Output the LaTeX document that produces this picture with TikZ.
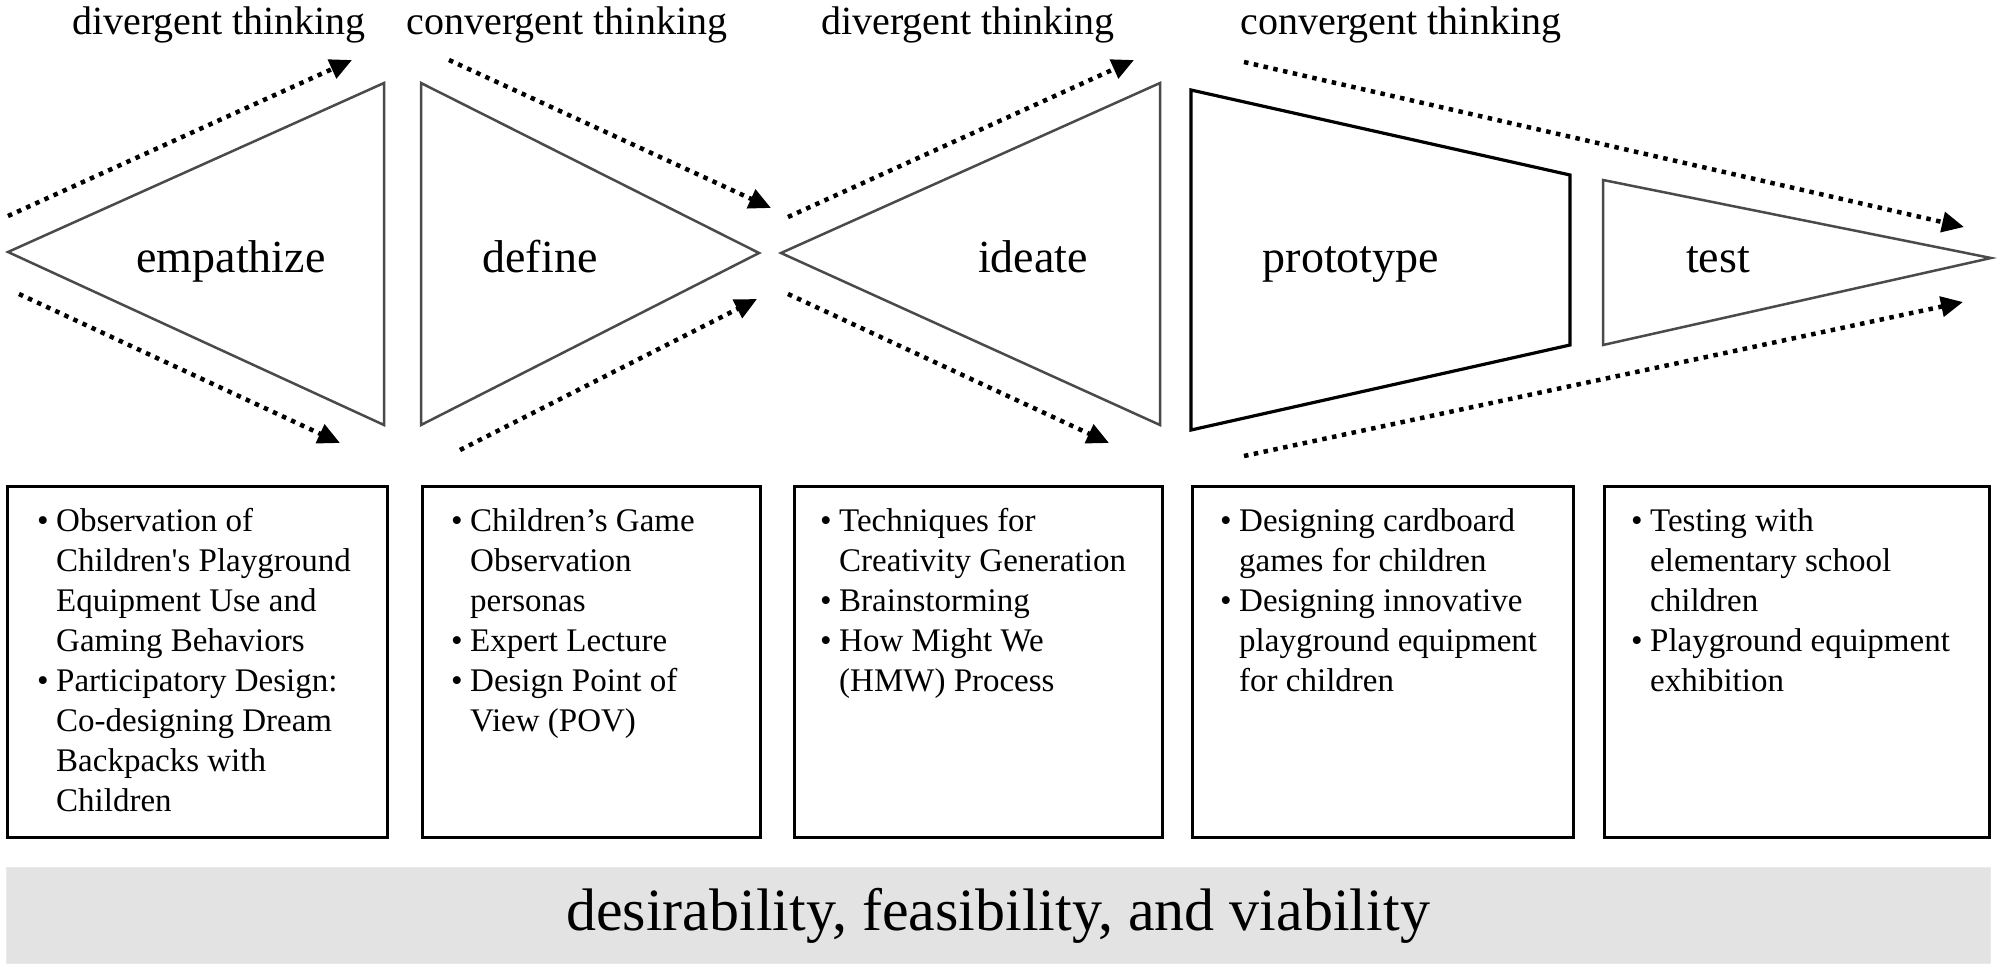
\documentclass[tikz,border=0pt]{standalone}
\usepackage{fontspec}
\setmainfont{Liberation Serif}
\usetikzlibrary{arrows.meta}
\definecolor{bandgray}{HTML}{E3E3E3}
\definecolor{edgegray}{HTML}{4A4A4A}
\newcommand{\bul}{\makebox[19pt][l]{\textbullet}}
\newcommand{\ind}{\hspace*{19pt}}
\begin{document}
\begin{tikzpicture}[x=1pt,y=-1pt,
  stage/.style={draw=edgegray,line width=2.5pt,line join=miter},
  stagedark/.style={draw=black,line width=3.2pt,line join=miter},
  flow/.style={line width=4.5pt,dash pattern=on 4.5pt off 5.5pt,-{Triangle[length=22pt,width=20pt]}},
  toplabel/.style={anchor=base,inner sep=0pt,font=\fontsize{40}{48}\selectfont},
  stagelabel/.style={anchor=base,inner sep=0pt,font=\fontsize{46}{55}\selectfont},
  box/.style={draw=black,line width=3.2pt,anchor=north west,minimum height=351pt,inner sep=0pt},
  boxtext/.style={anchor=north west,inner sep=0pt,align=left,font=\fontsize{33}{40}\selectfont},
  band/.style={fill=bandgray,draw=bandgray!80!white,line width=0.8pt,anchor=north west,minimum width=1984pt,minimum height=96pt,inner sep=0pt}
]
\useasboundingbox (0,0) rectangle (2000,967);

% stage shapes
\coordinate (e1) at (8,252);   \coordinate (e2) at (384,83);  \coordinate (e3) at (384,425);
\coordinate (d1) at (421,83);  \coordinate (d2) at (421,425); \coordinate (d3) at (759,253);
\coordinate (i1) at (781,253); \coordinate (i2) at (1160,83); \coordinate (i3) at (1160,425);
\coordinate (p1) at (1191,90); \coordinate (p2) at (1570,175); \coordinate (p3) at (1570,345); \coordinate (p4) at (1191,430);
\coordinate (s1) at (1603,180); \coordinate (s2) at (1991,258); \coordinate (s3) at (1603,345);

\draw[stage] (e1) -- (e2) -- (e3) -- cycle;
\draw[stage] (d1) -- (d3) -- (d2) -- cycle;
\draw[stage] (i1) -- (i2) -- (i3) -- cycle;
\draw[stagedark] (p1) -- (p2) -- (p3) -- (p4) -- cycle;
\draw[stage] (s1) -- (s2) -- (s3) -- cycle;

\node[stagelabel] (lemp) at (231,272) {empathize};
\node[stagelabel] (ldef) at (540,272) {define};
\node[stagelabel] (lide) at (1033,272) {ideate};
\node[stagelabel] (lpro) at (1351,272) {prototype};
\node[stagelabel] (ltes) at (1718,272) {test};

% top labels
\node[toplabel] (dv1) at (219,34) {divergent thinking};
\node[toplabel] (cv1) at (567,34) {convergent thinking};
\node[toplabel] (dv2) at (968,34) {divergent thinking};
\node[toplabel] (cv2) at (1401,34) {convergent thinking};

% dotted arrows
\coordinate (a1s) at (8,216);    \coordinate (a1e) at (352,60);
\coordinate (a2s) at (19,294);   \coordinate (a2e) at (340,443);
\coordinate (a3s) at (449,60);   \coordinate (a3e) at (771,208);
\coordinate (a4s) at (460,450);  \coordinate (a4e) at (757,299);
\coordinate (a5s) at (788,217);  \coordinate (a5e) at (1134,60);
\coordinate (a6s) at (788,294);  \coordinate (a6e) at (1109,443);
\coordinate (a7s) at (1244,62);  \coordinate (a7e) at (1964,227);
\coordinate (a8s) at (1244,456); \coordinate (a8e) at (1963,302);
\foreach \k in {1,...,8}{\draw[flow] (a\k s) -- (a\k e);}

% boxes
\node[box,minimum width=380pt] (b1) at (6,485) {};
\node[box,minimum width=338pt] (b2) at (421,485) {};
\node[box,minimum width=368pt] (b3) at (793,485) {};
\node[box,minimum width=381pt] (b4) at (1191,485) {};
\node[box,minimum width=385pt] (b5) at (1603,485) {};

\node[boxtext] (t1) at (37,503) {\strut\bul Observation of\\ \ind Children\textquotesingle s Playground\\ \ind Equipment Use and\\ \ind Gaming Behaviors\\ \bul Participatory Design:\\ \ind Co-designing Dream\\ \ind Backpacks with\\ \ind Children};
\node[boxtext] (t2) at (451,503) {\strut\bul Children’s Game\\ \ind Observation\\ \ind personas\\ \bul Expert Lecture\\ \bul Design Point of\\ \ind View (POV)};
\node[boxtext] (t3) at (820,503) {\strut\bul Techniques for\\ \ind Creativity Generation\\ \bul Brainstorming\\ \bul How Might We\\ \ind (HMW) Process};
\node[boxtext] (t4) at (1220,503) {\strut\bul Designing cardboard\\ \ind games for children\\ \bul Designing innovative\\ \ind playground equipment\\ \ind for children};
\node[boxtext] (t5) at (1631,503) {\strut\bul Testing with\\ \ind elementary school\\ \ind children\\ \bul Playground equipment\\ \ind exhibition};

% bottom band
\node[band] (bd) at (6,867) {};
\node[anchor=center,inner sep=0pt,font=\fontsize{60}{72}\selectfont] (bdt) at (998,916) {desirability, feasibility, and viability};
\end{tikzpicture}
\end{document}
